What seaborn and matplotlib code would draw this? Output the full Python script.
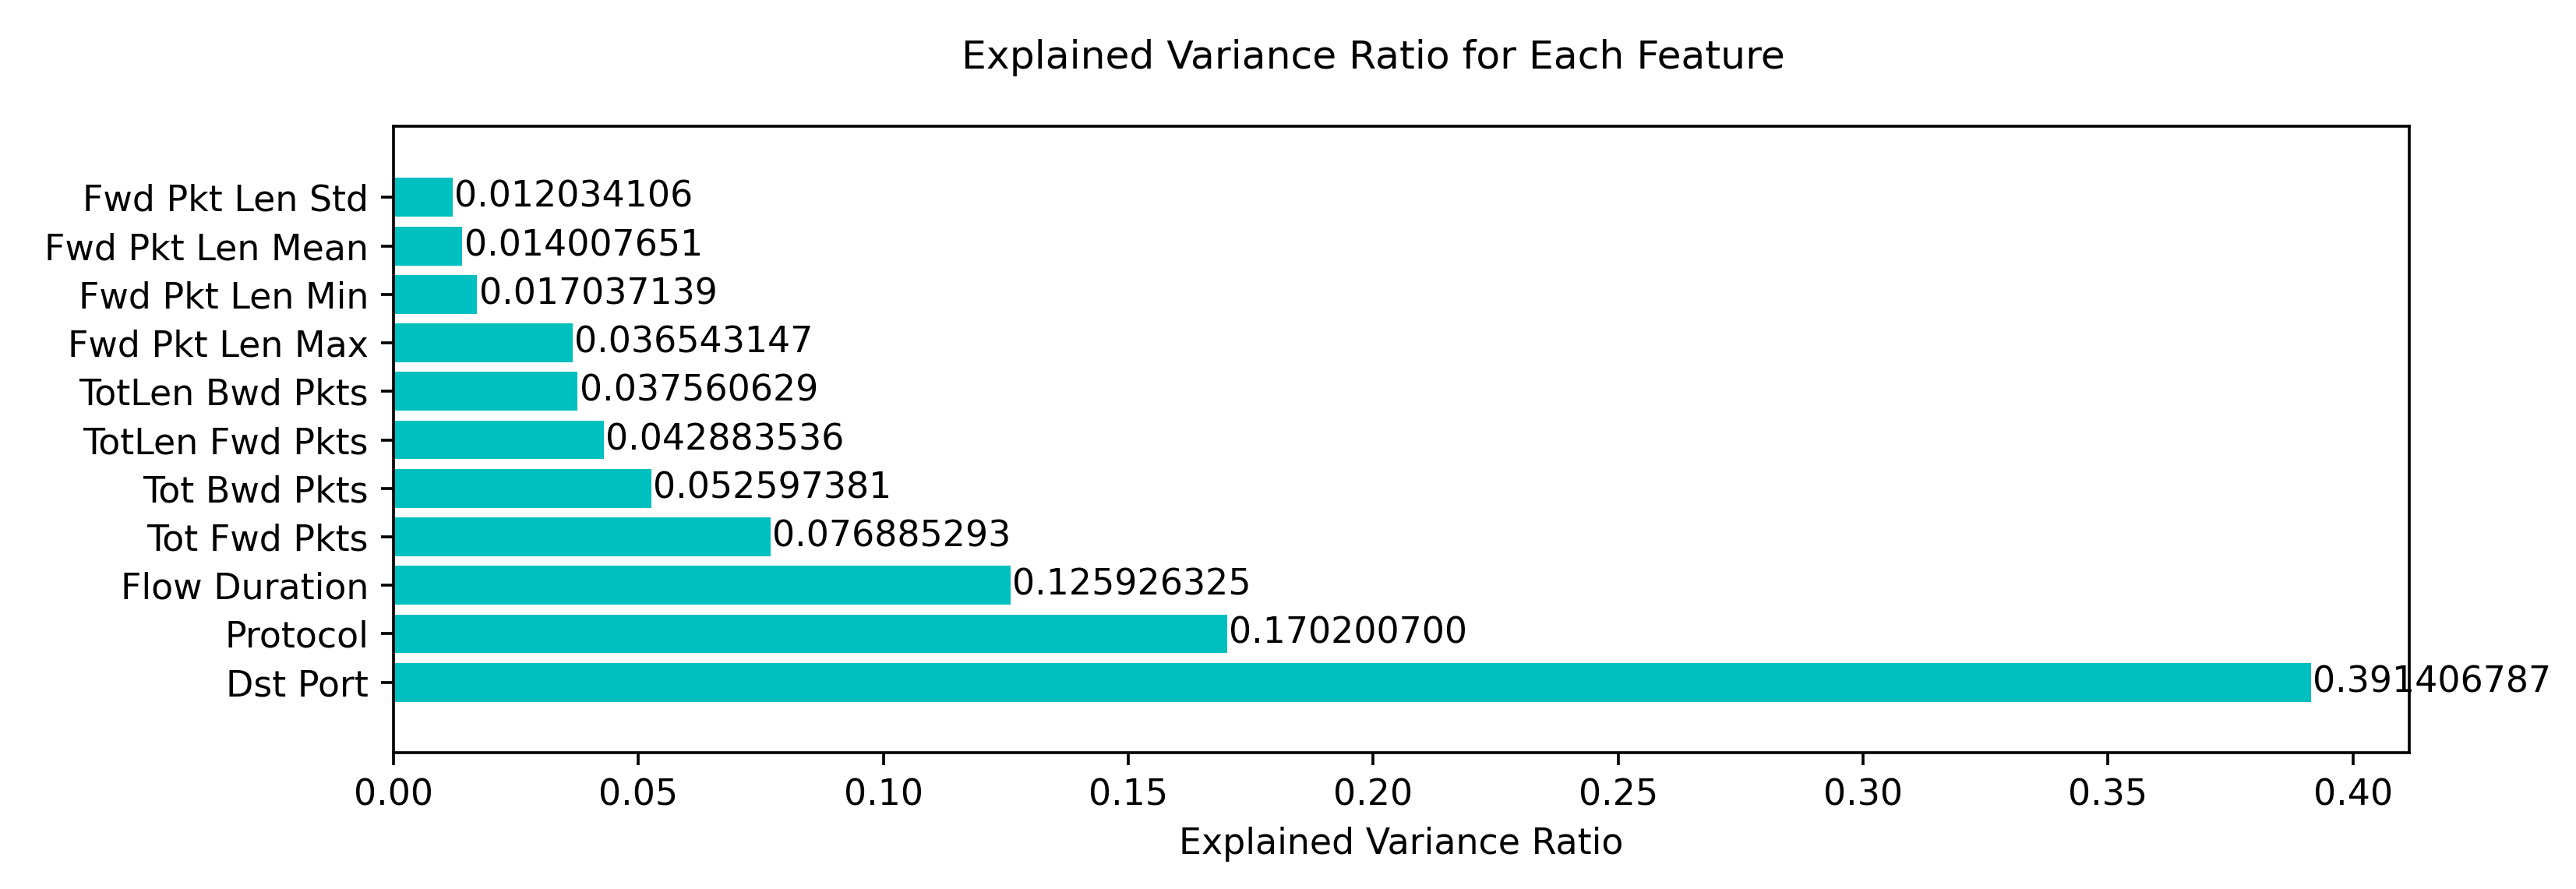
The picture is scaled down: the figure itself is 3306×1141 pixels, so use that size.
import numpy as np
import pandas as pd
import seaborn as sns
import matplotlib.pyplot as plt

# feature names and their explained variance ratio (largest first)
features = ['Dst Port', 'Protocol', 'Flow Duration', 'Tot Fwd Pkts', 'Tot Bwd Pkts',
            'TotLen Fwd Pkts', 'TotLen Bwd Pkts', 'Fwd Pkt Len Max', 'Fwd Pkt Len Min',
            'Fwd Pkt Len Mean', 'Fwd Pkt Len Std']
ratios = [0.391406787, 0.170200700, 0.125926325, 0.076885293, 0.052597381,
          0.042883536, 0.037560629, 0.036543147, 0.017037139, 0.014007651, 0.012034106]

df = pd.DataFrame({'feature': features, 'ratio': ratios})

fig = plt.figure(figsize=(3306 / 330, 1141 / 330), dpi=330)
ax = fig.add_axes([0.1528, 0.1534, 0.7825, 0.7047])

sns.barplot(data=df, x='ratio', y='feature', order=features[::-1], orient='h',
            color='c', saturation=1, width=0.8, errorbar=None, linewidth=0, ax=ax)
ax.bar_label(ax.containers[0], fmt='%.9f', padding=0.5, fontsize=10)

ax.set_xlim(0, 0.4115)
ax.set_ylim(len(features) - 1 + 1.45, -1.47)
ax.set_ylabel('')
ax.set_xlabel('Explained Variance Ratio')

fig.suptitle('Explained Variance Ratio for Each Feature', x=1762 / 3306, y=1 - 74 / 1141,
             va='center', fontsize=11)

fig.savefig('out.png', dpi=330)
